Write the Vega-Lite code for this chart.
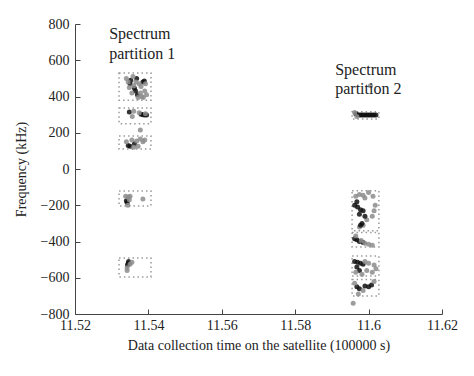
{
  "$schema": "https://vega.github.io/schema/vega-lite/v6.json",
  "width": 367,
  "height": 290,
  "autosize": "none",
  "padding": {"left": 75, "top": 24, "right": 32, "bottom": 62},
  "background": "white",
  "config": {
    "view": {"stroke": null},
    "font": "Liberation Serif",
    "axis": {
      "labelFont": "Liberation Serif",
      "titleFont": "Liberation Serif",
      "labelFontSize": 14,
      "titleFontSize": 14,
      "labelColor": "#222",
      "titleColor": "#222",
      "titleFontWeight": "normal",
      "domainColor": "#444",
      "tickColor": "#444",
      "grid": false
    },
    "axisY": {"labelOverlap": false, "tickCount": 9},
    "axisX": {"labelOverlap": false}
  },
  "encoding": {
    "x": {"field": "t", "type": "quantitative", "scale": {"domain": [11.52, 11.62], "nice": false, "zero": false},
          "axis": {"values": [11.52, 11.54, 11.56, 11.58, 11.6, 11.62], "format": "~g", "title": "Data collection time on the satellite (100000 s)", "tickSize": -5, "labelPadding": 9, "titlePadding": 6, "labelFlush": false, "labelOverlap": false}},
    "y": {"field": "f", "type": "quantitative", "scale": {"domain": [-800, 800], "nice": false, "zero": false},
          "axis": {"values": [-800, -600, -400, -200, 0, 200, 400, 600, 800], "labelExpr": "replace(datum.label, '-', '\u2212')", "title": "Frequency (kHz)", "tickSize": -5, "labelPadding": 11, "titlePadding": 12, "labelOverlap": false, "labelFlush": false}}
  },
  "datasets": {
    "pts": [
      {"t": 11.5352, "f": 490, "c": "black"}, {"t": 11.5368, "f": 500, "c": "black"}, {"t": 11.5385, "f": 480, "c": "black"}, {"t": 11.5389, "f": 485, "c": "black"},
      {"t": 11.5362, "f": 445, "c": "black"}, {"t": 11.5365, "f": 430, "c": "black"}, {"t": 11.5370, "f": 410, "c": "black"}, {"t": 11.5350, "f": 470, "c": "black"},
      {"t": 11.5340, "f": 500, "c": "gray"}, {"t": 11.5345, "f": 480, "c": "gray"}, {"t": 11.5358, "f": 510, "c": "gray"}, {"t": 11.5375, "f": 470, "c": "gray"},
      {"t": 11.5380, "f": 455, "c": "gray"}, {"t": 11.5390, "f": 430, "c": "gray"}, {"t": 11.5395, "f": 410, "c": "gray"}, {"t": 11.5382, "f": 400, "c": "gray"},
      {"t": 11.5372, "f": 395, "c": "gray"}, {"t": 11.5360, "f": 460, "c": "gray"}, {"t": 11.5355, "f": 420, "c": "gray"}, {"t": 11.5348, "f": 450, "c": "gray"},
      {"t": 11.5392, "f": 470, "c": "gray"}, {"t": 11.5366, "f": 480, "c": "gray"}, {"t": 11.5378, "f": 420, "c": "gray"}, {"t": 11.5386, "f": 395, "c": "gray"},
      {"t": 11.5348, "f": 315, "c": "black"}, {"t": 11.5385, "f": 300, "c": "black"}, {"t": 11.5390, "f": 298, "c": "black"}, {"t": 11.5395, "f": 298, "c": "black"}, {"t": 11.5380, "f": 302, "c": "black"},
      {"t": 11.5360, "f": 318, "c": "gray"}, {"t": 11.5375, "f": 310, "c": "gray"}, {"t": 11.5392, "f": 305, "c": "gray"}, {"t": 11.5356, "f": 290, "c": "gray"},
      {"t": 11.5378, "f": 215, "c": "gray"},
      {"t": 11.5350, "f": 125, "c": "black"}, {"t": 11.5362, "f": 140, "c": "black"}, {"t": 11.5345, "f": 130, "c": "black"},
      {"t": 11.5340, "f": 150, "c": "gray"}, {"t": 11.5355, "f": 160, "c": "gray"}, {"t": 11.5368, "f": 155, "c": "gray"}, {"t": 11.5378, "f": 165, "c": "gray"},
      {"t": 11.5385, "f": 150, "c": "gray"}, {"t": 11.5372, "f": 125, "c": "gray"}, {"t": 11.5360, "f": 120, "c": "gray"}, {"t": 11.5390, "f": 160, "c": "gray"},
      {"t": 11.5342, "f": -185, "c": "black"}, {"t": 11.5340, "f": -175, "c": "black"},
      {"t": 11.5338, "f": -150, "c": "gray"}, {"t": 11.5345, "f": -155, "c": "gray"}, {"t": 11.5350, "f": -150, "c": "gray"}, {"t": 11.5348, "f": -170, "c": "gray"},
      {"t": 11.5344, "f": -200, "c": "gray"}, {"t": 11.5385, "f": -165, "c": "gray"},
      {"t": 11.5345, "f": -520, "c": "black"}, {"t": 11.5343, "f": -530, "c": "black"}, {"t": 11.5346, "f": -510, "c": "black"},
      {"t": 11.5342, "f": -545, "c": "gray"}, {"t": 11.5342, "f": -560, "c": "gray"}, {"t": 11.5350, "f": -525, "c": "gray"}, {"t": 11.5355, "f": -515, "c": "gray"},
      {"t": 11.5965, "f": 305, "c": "black"}, {"t": 11.5970, "f": 300, "c": "black"}, {"t": 11.5975, "f": 298, "c": "black"}, {"t": 11.5980, "f": 298, "c": "black"},
      {"t": 11.5985, "f": 298, "c": "black"}, {"t": 11.5990, "f": 298, "c": "black"}, {"t": 11.5995, "f": 298, "c": "black"}, {"t": 11.6000, "f": 298, "c": "black"},
      {"t": 11.6005, "f": 298, "c": "black"}, {"t": 11.6010, "f": 298, "c": "black"}, {"t": 11.6015, "f": 298, "c": "black"}, {"t": 11.6020, "f": 298, "c": "black"},
      {"t": 11.5962, "f": 312, "c": "gray"}, {"t": 11.5968, "f": 290, "c": "gray"},
      {"t": 11.6005, "f": 460, "c": "gray"},
      {"t": 11.5965, "f": -150, "c": "gray"}, {"t": 11.5975, "f": -140, "c": "gray"}, {"t": 11.5985, "f": -145, "c": "gray"}, {"t": 11.5990, "f": -160, "c": "gray"},
      {"t": 11.6000, "f": -130, "c": "gray"}, {"t": 11.6012, "f": -150, "c": "gray"}, {"t": 11.6018, "f": -200, "c": "gray"}, {"t": 11.6015, "f": -230, "c": "gray"},
      {"t": 11.6010, "f": -260, "c": "gray"}, {"t": 11.5995, "f": -280, "c": "gray"}, {"t": 11.5985, "f": -310, "c": "gray"}, {"t": 11.5975, "f": -320, "c": "gray"},
      {"t": 11.5962, "f": -200, "c": "black"}, {"t": 11.5970, "f": -210, "c": "black"}, {"t": 11.5978, "f": -225, "c": "black"}, {"t": 11.5985, "f": -230, "c": "black"},
      {"t": 11.5975, "f": -250, "c": "black"}, {"t": 11.5990, "f": -260, "c": "black"}, {"t": 11.5982, "f": -300, "c": "black"}, {"t": 11.5978, "f": -310, "c": "black"},
      {"t": 11.5968, "f": -180, "c": "black"},
      {"t": 11.5962, "f": -385, "c": "black"}, {"t": 11.5968, "f": -390, "c": "black"}, {"t": 11.5975, "f": -400, "c": "black"}, {"t": 11.5985, "f": -405, "c": "black"},
      {"t": 11.5990, "f": -410, "c": "gray"}, {"t": 11.6000, "f": -415, "c": "gray"}, {"t": 11.6010, "f": -420, "c": "gray"}, {"t": 11.5980, "f": -395, "c": "gray"}, {"t": 11.5965, "f": -370, "c": "gray"},
      {"t": 11.5962, "f": -510, "c": "black"}, {"t": 11.5970, "f": -515, "c": "black"}, {"t": 11.5978, "f": -520, "c": "black"}, {"t": 11.5985, "f": -525, "c": "black"},
      {"t": 11.5968, "f": -540, "c": "black"}, {"t": 11.5975, "f": -560, "c": "black"},
      {"t": 11.5990, "f": -510, "c": "gray"}, {"t": 11.6000, "f": -520, "c": "gray"}, {"t": 11.6015, "f": -530, "c": "gray"}, {"t": 11.6010, "f": -570, "c": "gray"},
      {"t": 11.5982, "f": -580, "c": "gray"}, {"t": 11.5995, "f": -560, "c": "gray"}, {"t": 11.5965, "f": -570, "c": "gray"}, {"t": 11.6020, "f": -550, "c": "gray"},
      {"t": 11.5968, "f": -650, "c": "black"}, {"t": 11.5975, "f": -660, "c": "black"}, {"t": 11.5990, "f": -645, "c": "black"}, {"t": 11.6000, "f": -650, "c": "black"}, {"t": 11.6008, "f": -640, "c": "black"},
      {"t": 11.5962, "f": -630, "c": "gray"}, {"t": 11.6015, "f": -620, "c": "gray"}, {"t": 11.5985, "f": -670, "c": "gray"}, {"t": 11.5972, "f": -690, "c": "gray"},
      {"t": 11.5958, "f": -740, "c": "gray"}
    ],
    "boxes": [
      {"t": 11.5320, "t2": 11.5407, "f": 380, "f2": 530},
      {"t": 11.5320, "t2": 11.5407, "f": 250, "f2": 337},
      {"t": 11.5320, "t2": 11.5407, "f": 110, "f2": 182},
      {"t": 11.5320, "t2": 11.5407, "f": -204, "f2": -121},
      {"t": 11.5320, "t2": 11.5407, "f": -596, "f2": -491},
      {"t": 11.5955, "t2": 11.6028, "f": 276, "f2": 316},
      {"t": 11.5955, "t2": 11.6028, "f": -340, "f2": -120},
      {"t": 11.5955, "t2": 11.6028, "f": -430, "f2": -350},
      {"t": 11.5955, "t2": 11.6028, "f": -590, "f2": -480},
      {"t": 11.5955, "t2": 11.6028, "f": -700, "f2": -610}
    ],
    "labels": [
      {"t": 11.5293, "f": 745, "txt": "Spectrum"},
      {"t": 11.5293, "f": 636, "txt": "partition 1"},
      {"t": 11.5909, "f": 546, "txt": "Spectrum"},
      {"t": 11.5909, "f": 440, "txt": "partition 2"}
    ]
  },
  "layer": [
    {
      "data": {"name": "boxes"},
      "mark": {"type": "rect", "fill": null, "stroke": "#9a9a9a", "strokeWidth": 1.5, "strokeDash": [1.5, 3]},
      "encoding": {
        "x2": {"field": "t2"},
        "y2": {"field": "f2"}
      }
    },
    {
      "data": {"name": "pts"},
      "mark": {"type": "point", "filled": true, "size": 25, "opacity": 0.85},
      "encoding": {
        "color": {"field": "c", "type": "nominal", "scale": {"domain": ["black", "gray"], "range": ["#111111", "#8c8c8c"]}, "legend": null}
      }
    },
    {
      "data": {"name": "labels"},
      "mark": {"type": "text", "align": "left", "baseline": "middle", "font": "Liberation Serif", "fontSize": 16, "color": "#222"},
      "encoding": {
        "text": {"field": "txt"}
      }
    }
  ]
}
